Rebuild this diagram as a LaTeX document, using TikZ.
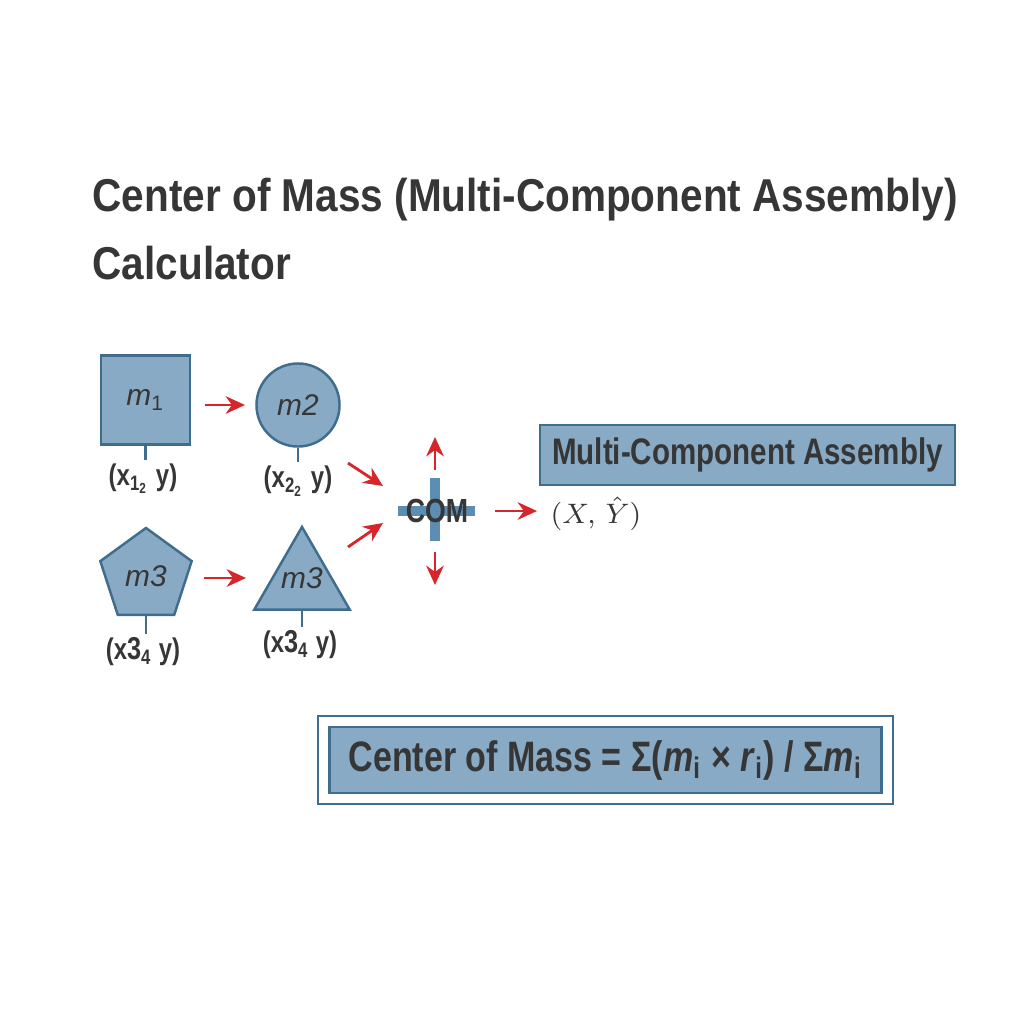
\documentclass[tikz,border=0pt]{standalone}
\usepackage[no-math]{fontspec}
\setmainfont{Liberation Sans}
\newfontfamily\headfont[FakeStretch=0.88]{Liberation Sans}
\newfontfamily\bannerfont[FakeStretch=0.8]{Liberation Sans}
\usetikzlibrary{arrows.meta,positioning,shapes.geometric}
\definecolor{massfill}{HTML}{88AAC5}
\definecolor{massedge}{HTML}{3E6D8E}
\definecolor{crossblue}{HTML}{5C8DB2}
\definecolor{flowred}{HTML}{D7262B}
\definecolor{inkgray}{HTML}{363636}

\begin{document}
\begin{tikzpicture}[x=0.01cm, y=-0.01cm,
  font=\fontsize{8}{9}\selectfont, text=inkgray,
  body/.style={draw=massedge, fill=massfill, line width=0.7pt, inner sep=0pt, font=\fontsize{8.5}{10}\selectfont\itshape},
  coordlbl/.style={font=\bannerfont\bfseries\fontsize{8.5}{10}\selectfont, inner sep=1pt},
  stub/.style={draw=massedge, line width=0.6pt},
  flow/.style={-{Stealth[length=5.5pt,width=5pt]}, draw=flowred, line width=0.8pt},
  banner/.style={draw=massedge, fill=massfill, line width=0.7pt, inner sep=0pt, font=\bannerfont\bfseries\fontsize{10.5}{12}\selectfont},
  headline/.style={anchor=west, inner sep=0pt, font=\headfont\bfseries\fontsize{13.1}{15}\selectfont},
]
\useasboundingbox[fill=white] (0,0) rectangle (1024,1024);

% title
\node[headline] (title1) at (92,200) {Center of Mass (Multi-Component Assembly)};
\node[headline] (title2) at (92,263) {Calculator};

% components
\node[body, rectangle, minimum size=0.89cm] (sq) at (145.5,400) {m\textsubscript{\upshape 1}};
\node[body, circle, minimum size=0.83cm] (circ) at (298,405) {m2};
\node[body, regular polygon, regular polygon sides=5, minimum size=0.96cm] (pent) at (146,576) {m3};
\node[body, regular polygon, regular polygon sides=3, minimum size=1.1cm] (tri) at (302,582) {};
\node[font=\fontsize{8.5}{10}\selectfont\itshape] (trilbl) at (302,578) {m3};

% positions
\node[coordlbl] (p1) at (143,479) {(x\textsubscript{1\textsubscript{2}} y)};
\node[coordlbl] (p2) at (298,481) {(x\textsubscript{2\textsubscript{2}} y)};
\node[coordlbl] (p3) at (143,652) {(x{\small 3}\textsubscript{4} y)};
\node[coordlbl] (p4) at (300,645) {(x{\small 3}\textsubscript{4} y)};
\draw[stub] (sq.south) -- (sq.south |- p1.north);
\draw[stub] (circ.south) -- (circ.south |- p2.north);
\draw[stub] (pent.south) -- (pent.south |- p3.north);
\draw[stub] (tri.south) -- (tri.south |- p4.north);

\coordinate (a1) at (205,405);
\coordinate (b1) at (245,405);
\coordinate (a2) at (204,578);
\coordinate (b2) at (246,578);
\draw[flow] (a1) -- (b1);
\draw[flow] (a2) -- (b2);

% centre of mass
\fill[crossblue] (398,506) rectangle (475,516);
\fill[crossblue] (430,478) rectangle (440,541);
\node[inner sep=0pt, font=\bannerfont\bfseries\fontsize{9.5}{11}\selectfont] (com) at (437,511) {COM};
\coordinate (in1) at (348,463);
\coordinate (in1e) at (383,486);
\coordinate (in2) at (348,547);
\coordinate (in2e) at (383,523);
\coordinate (upS) at (435,470);
\coordinate (up) at (435,437);
\coordinate (downS) at (435,552);
\coordinate (down) at (435,585);
\coordinate (outS) at (495,511);
\coordinate (outE) at (537,511);
\foreach \a/\b in {in1/in1e, in2/in2e, upS/up, downS/down, outS/outE} \draw[flow] (\a) -- (\b);

\node[inner sep=0pt, font=\fontsize{8}{10}\selectfont] (xy) at (596,514) {$(X,\,\hat{Y})$};

\node[banner, minimum width=4.15cm, minimum height=0.6cm] (asm) at (747.5,455) {Multi-Component Assembly};

% formula
\node[draw=massedge, fill=white, line width=0.6pt, minimum width=5.75cm, minimum height=0.88cm] (fbox) at (605.5,760) {};
\node[banner, minimum width=5.52cm, minimum height=0.66cm, font=\bannerfont\bfseries\fontsize{12.1}{14}\selectfont] (formula) at (fbox.center)
  {Center of Mass = Σ(\textit{m}\textsubscript{i} × \textit{r}\textsubscript{i}) / Σ\textit{m}\textsubscript{i}};
\end{tikzpicture}
\end{document}
